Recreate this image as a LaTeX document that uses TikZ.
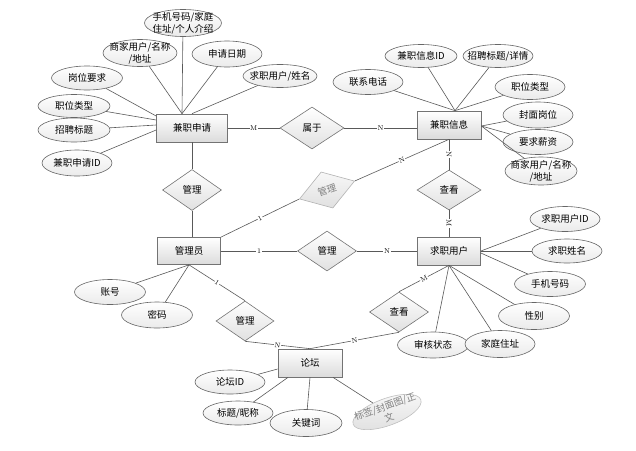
\documentclass[tikz,border=0pt]{standalone}
\usepackage{fontspec}
\newfontfamily\cjk{Noto Sans CJK SC}
\usetikzlibrary{shapes.geometric,calc}
\begin{document}
\begin{tikzpicture}[x=1pt,y=-1pt,
  every node/.style={font=\cjk\fontsize{9.5}{12}\selectfont},
  ln/.style={draw=black!65, line width=0.6pt},
  entity/.style={rectangle, draw=black!55, line width=0.7pt, top color=white, bottom color=black!14, minimum width=64, minimum height=28, inner sep=0},
  rel/.style={diamond, draw=black!55, line width=0.6pt, top color=white, bottom color=black!12, minimum width=60, minimum height=40, inner sep=0},
  attr/.style={ellipse, draw=black!60, line width=0.6pt, top color=white, bottom color=black!8, minimum width=70, minimum height=25, inner sep=0},
  attrT/.style={attr, label={[align=center, inner sep=0]center:#1}},
  card/.style={font=\fontsize{7}{7}\selectfont, fill=white, inner sep=0.6pt},
]
\useasboundingbox (0,0) rectangle (636,450);

% entities
\node[entity, minimum width=71] (jzsq) at (192,128) {兼职申请};
\node[entity] (jzxx) at (449,125) {兼职信息};
\node[entity, minimum width=63, minimum height=27] (gly) at (189,251) {管理员};
\node[entity, minimum width=63] (qzyh) at (449,251) {求职用户};
\node[entity] (lt) at (310,363) {论坛};

% relations
\node[rel, minimum width=64, minimum height=42] (sy) at (312,128) {属于};
\node[rel, minimum width=59, minimum height=41] (gl1) at (192,190) {管理};
\node[rel, rotate=18, draw=black!30, top color=black!3, bottom color=black!12, text=black!50, minimum width=58, minimum height=38] (gl2) at (327,190) {管理};
\node[rel, minimum width=64, minimum height=40] (ck1) at (449,190) {查看};
\node[rel, minimum width=59, minimum height=40] (gl3) at (327,251) {管理};
\node[rel, minimum width=58, minimum height=40] (gl4) at (245,321) {管理};
\node[rel, minimum width=59, minimum height=40] (ck2) at (399,312) {查看};

% attributes of 兼职申请
\node[attrT={手机号码/家庭\\住址/个人介绍}, minimum width=77, minimum height=27] (a1) at (183,23) {};
\node[attrT={商家用户/名称\\/地址}, minimum width=74, minimum height=27] (a2) at (140,53) {};
\node[attrT={申请日期}, minimum height=26] (a3) at (227,54) {};
\node[attrT={求职用户/姓名}, minimum width=74, minimum height=23] (a4) at (280,76) {};
\node[attrT={岗位要求}, minimum width=71, minimum height=24] (a5) at (87,78) {};
\node[attrT={职位类型}, minimum width=72, minimum height=23] (a6) at (74,106) {};
\node[attrT={招聘标题}, minimum width=72, minimum height=24] (a7) at (74,130) {};
\node[attrT={兼职申请ID}, minimum height=26] (a8) at (77,163) {};

% attributes of 兼职信息
\node[attrT={联系电话}] (b1) at (368,82) {};
\node[attrT={兼职信息ID}, minimum width=72, minimum height=23] (b2) at (421,56) {};
\node[attrT={招聘标题/详情}, minimum height=23] (b3) at (498,56) {};
\node[attrT={职位类型}] (b4) at (530,87) {};
\node[attrT={封面岗位}, minimum height=26] (b5) at (538,115) {};
\node[attrT={要求薪资}] (b6) at (538,142) {};
\node[attrT={商家用户/名称\\/地址}, minimum width=72, minimum height=28] (b7) at (541,171) {};

% attributes of 求职用户
\node[attrT={求职用户ID}] (c1) at (565,219) {};
\node[attrT={求职姓名}, minimum height=24] (c2) at (567,251) {};
\node[attrT={手机号码}, minimum width=71] (c3) at (550,284) {};
\node[attrT={性别}, minimum width=71, minimum height=27] (c4) at (534,316) {};
\node[attrT={审核状态}, minimum width=71, minimum height=26] (c6) at (433,345) {};
\node[attrT={家庭住址}, minimum height=27] (c5) at (500,344) {};

% attributes of 管理员
\node[attrT={账号}, minimum width=71] (d1) at (110,292) {};
\node[attrT={密码}, minimum width=71, minimum height=26] (d2) at (157,315) {};

% attributes of 论坛
\node[attrT={论坛ID}, minimum height=24] (e1) at (230,382) {};
\node[attrT={标题/昵称}, minimum height=24] (e2) at (238,413) {};
\node[attrT={关键词}, minimum width=72, minimum height=27] (e3) at (306,423) {};
\node[attr, rotate=20, draw=black!25, top color=black!3, bottom color=black!12, minimum width=72, minimum height=27] (e4) at (387,412) {};
\node[rotate=20, align=center, text=black!50, inner sep=0] (e4t) at (e4.center) {标签/封面图/正\\文};

% attribute lines
\draw[ln] (a1) -- ($(jzsq.north)+(-10,0)$);
\draw[ln] (a2) -- ($(jzsq.north)+(-10,0)$);
\draw[ln] (a3) -- ($(jzsq.north)+(-10,0)$);
\draw[ln] (a4) -- (jzsq.north);
\draw[ln] (a5) -- ($(jzsq.west)+(0,-12)$);
\draw[ln] (a6) -- ($(jzsq.west)+(0,-8)$);
\draw[ln] (a7) -- ($(jzsq.west)+(0,-3)$);
\draw[ln] (a8) -- ($(jzsq.west)+(0,2)$);

\draw[ln] (b1) -- ($(jzxx.north)+(6,0)$);
\draw[ln] (b2) -- ($(jzxx.north)+(6,0)$);
\draw[ln] (b3) -- ($(jzxx.north)+(6,0)$);
\draw[ln] (b4) -- ($(jzxx.north)+(6,0)$);
\draw[ln] (b5) -- ($(jzxx.east)+(0,1)$);
\draw[ln] (b6) -- ($(jzxx.east)+(0,1)$);
\draw[ln] (b7) -- ($(jzxx.east)+(0,1)$);

\draw[ln] (c1) -- (qzyh.east);
\draw[ln] (c2) -- (qzyh.east);
\draw[ln] (c3) -- ($(qzyh.east)+(0,2)$);
\draw[ln] (c4) -- (qzyh.south);
\draw[ln] (c5) -- (qzyh.south);
\draw[ln] (c6) -- (qzyh.south);

\draw[ln] (d1) -- (gly.south);
\draw[ln] (d2) -- (gly.south);

\draw[ln] (e1) -- ($(lt.west)+(0,6)$);
\draw[ln] (e2) -- ($(lt.south)+(-22,0)$);
\draw[ln] (e3) -- (lt.south);
\draw[ln] (e4) -- ($(lt.south)+(23,0)$);

% relationship lines
\draw[ln] (jzsq.east) -- node[card]{M} (sy.west);
\draw[ln] (sy.east) -- node[card]{N} (sy.east -| jzxx.west);
\draw[ln] (jzsq.south) -- (gl1.north);
\draw[ln] (gl1.south) -- (gl1.south |- gly.north);
\draw[ln] (gly.north east) -- node[card, sloped]{1} (gl2.west);
\draw[ln] (gl2.east) -- node[card, sloped]{N} (jzxx.south);
\draw[ln] (jzxx.south) -- node[card, sloped]{N} (ck1.north);
\draw[ln] (ck1.south) -- node[card, sloped]{M} (qzyh.north);
\draw[ln] (gly.east) -- node[card]{1} (gl3.west);
\draw[ln] (gl3.east) -- node[card]{N} (qzyh.west);
\draw[ln] (gly.south) -- node[card, sloped]{1} (gl4.north);
\draw[ln] (gl4.south) -- node[card, sloped]{N} (lt.north);
\draw[ln] (qzyh.south) -- node[card, sloped]{M} (ck2.north);
\draw[ln] (ck2.south) -- node[card, sloped]{N} (lt.north);
\end{tikzpicture}
\end{document}
